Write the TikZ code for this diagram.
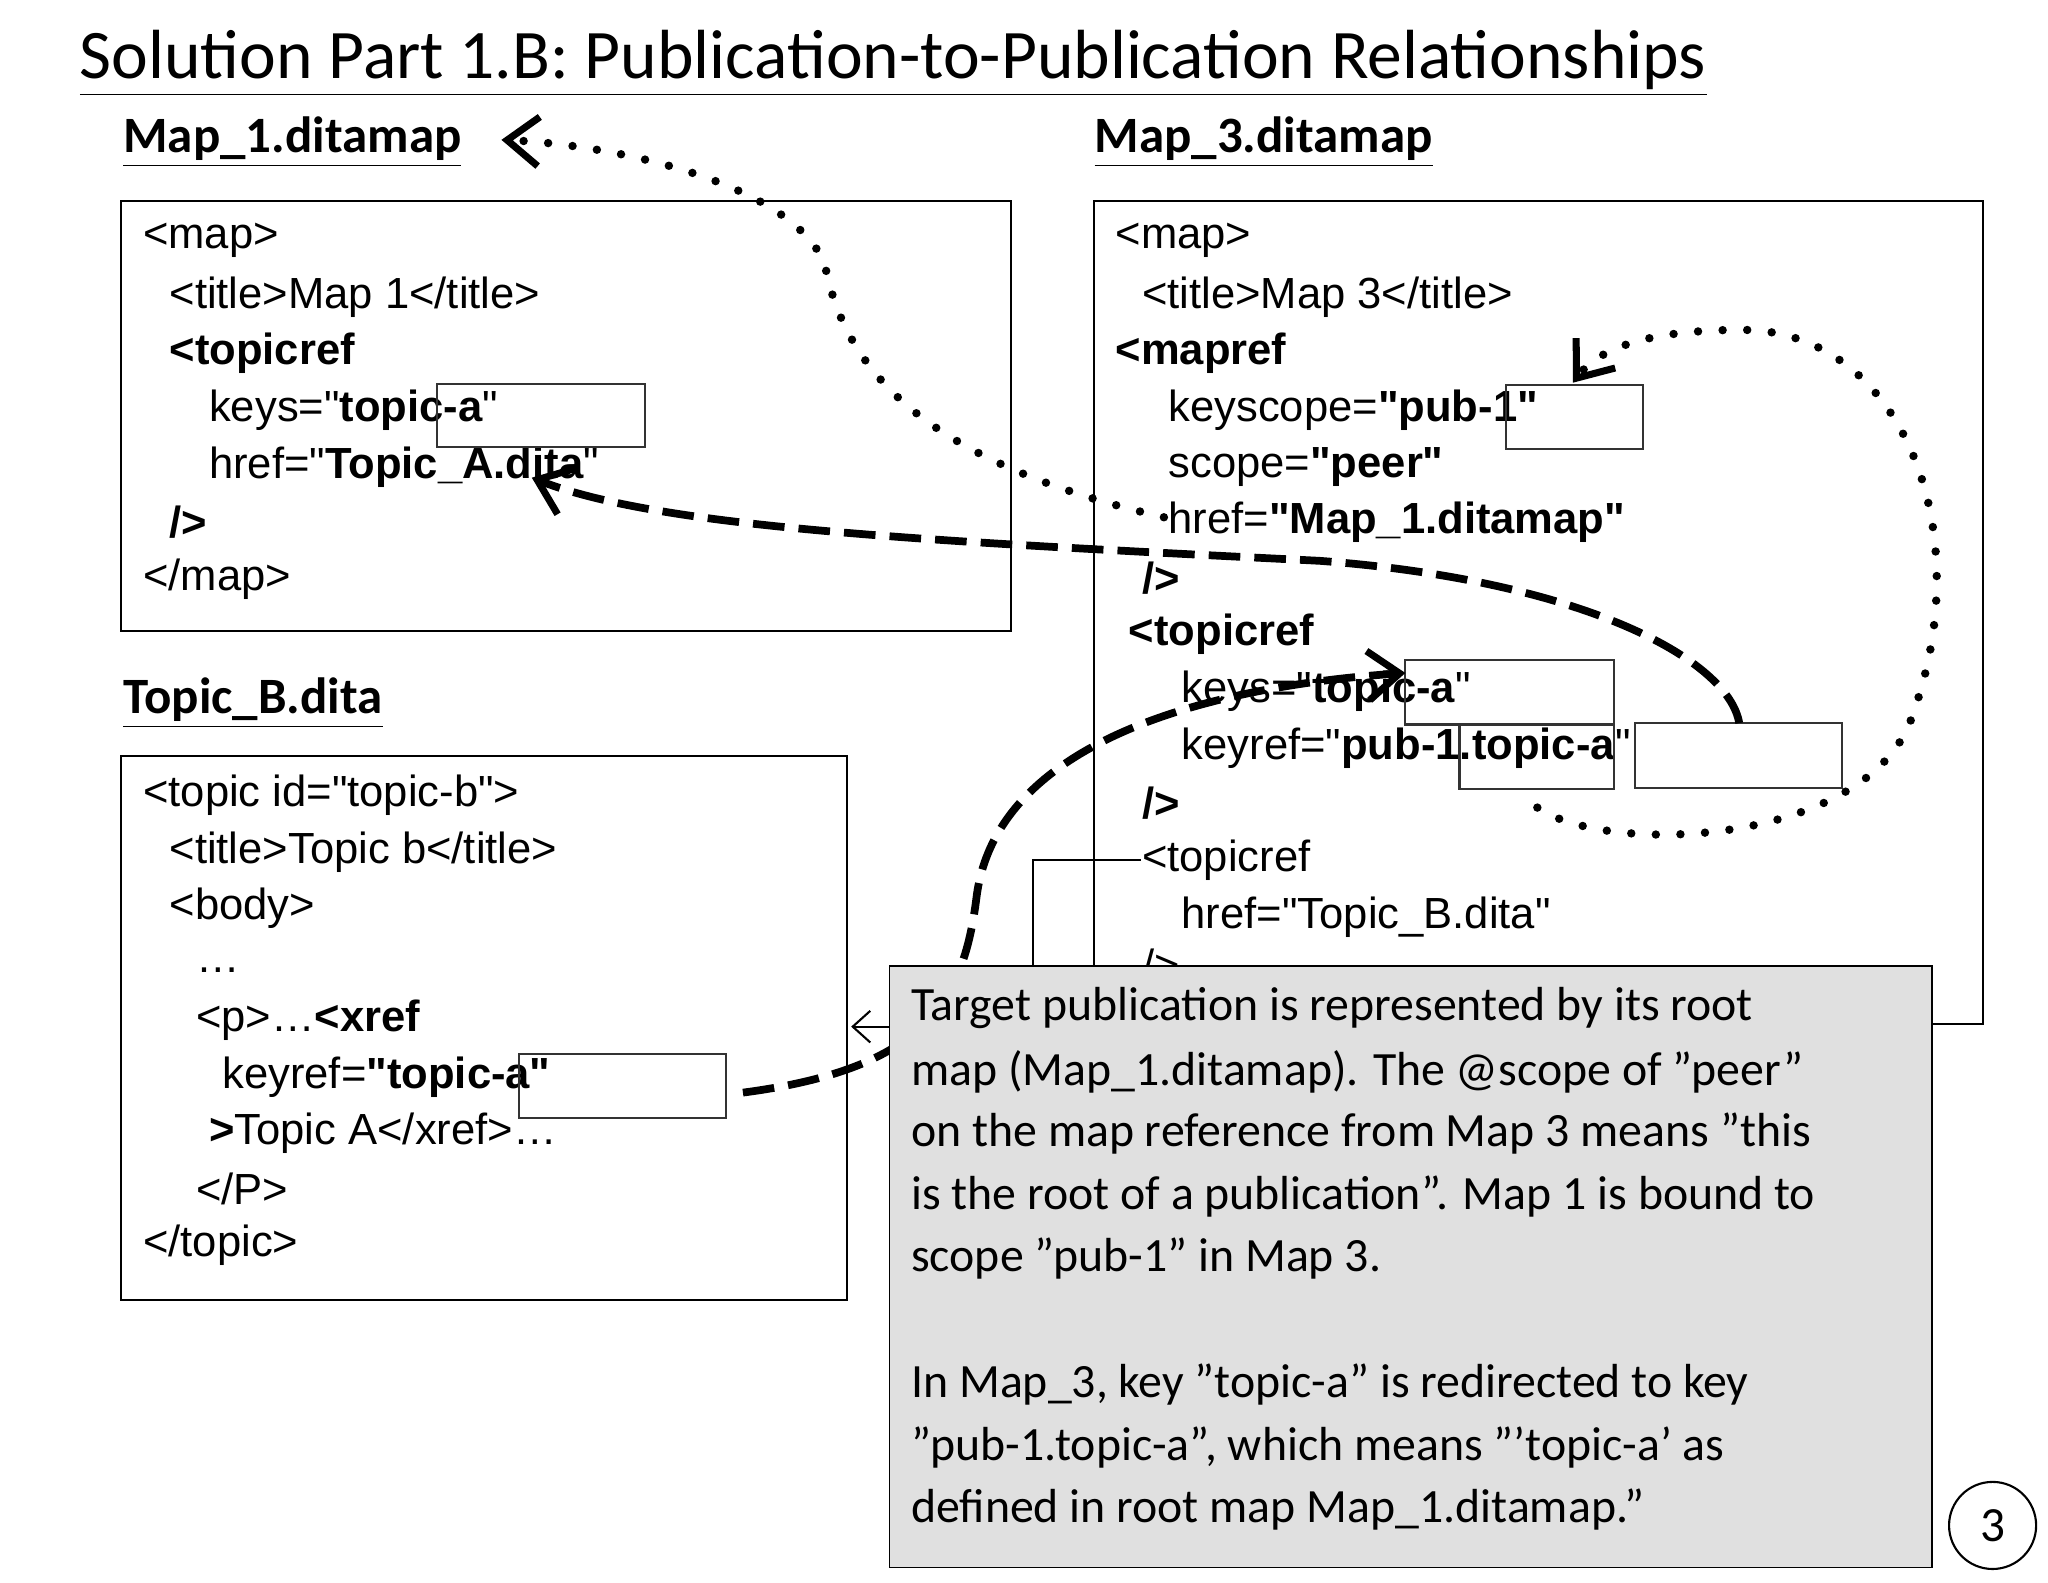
\documentclass[tikz,border=0pt]{standalone}
\usepackage{fontspec}
\defaultfontfeatures{}
\setmainfont{Carlito}
\newfontfamily\codefont{Liberation Sans}
\usetikzlibrary{arrows.meta}

\begin{document}
\begin{tikzpicture}[x=0.013196cm, y=-0.013196cm,
    code/.style={anchor=west, inner sep=0, font=\codefont\fontsize{12.4}{14}\selectfont},
    head/.style={anchor=west, inner sep=0, font=\bfseries\fontsize{14.5}{16}\selectfont},
    note/.style={anchor=west, inner sep=0, font=\fontsize{13.6}{16}\selectfont},
    keybox/.style={draw=black!80, semithick},
    dotline/.style={line width=2.4pt, dash pattern=on 0pt off 7pt, line cap=round},
    dashline/.style={line width=2.2pt, dash pattern=on 9pt off 4pt}]
    \useasboundingbox (0,0) rectangle (1552,1199);

    \node[anchor=west, inner sep=0, font=\fontsize{19.8}{22}\selectfont] (title) at (60,48)
        {\underline{Solution Part 1.B: Publication-to-Publication Relationships}};

    % Map 1
    \node[head] (h1) at (93,108) {\underline{Map\_1.ditamap}};
    \draw[semithick] (92,152) rectangle (766,478);
    \node[code] at (108,182) {<map>};
    \node[code] at (128,225) {<title>Map 1</title>};
    \node[code] at (128,268) {\textbf{<topicref}};
    \node[code] at (158,311) {keys="\textbf{topic-a}"};
    \node[code] (hrefa) at (158,354) {href="\textbf{Topic\_A.dita}"};
    \node[code] at (128,396) {\textbf{/>}};
    \node[code] at (108,439) {</map>};

    % Map 3
    \node[head] (h3) at (829,108) {\underline{Map\_3.ditamap}};
    \draw[semithick] (829,152) rectangle (1503,776);
    \node[code] at (845,182) {<map>};
    \node[code] at (865,225) {<title>Map 3</title>};
    \node[code] at (845,268) {\textbf{<mapref}};
    \node[code] at (885,311) {keyscope=\textbf{"pub-1"}};
    \node[code] at (885,354) {scope=\textbf{"peer"}};
    \node[code] (hrefm) at (885,396) {href=\textbf{"Map\_1.ditamap"}};
    \node[code] at (865,438) {\textbf{/>}};
    \node[code] at (855,481) {\textbf{<topicref}};
    \node[code] at (895,524) {keys="\textbf{topic-a}"};
    \node[code] at (895,567) {keyref="\textbf{pub-1.topic-a}"};
    \node[code] at (865,609) {\textbf{/>}};
    \node[code] (tref) at (865,652) {<topicref};
    \node[code] at (895,695) {href="Topic\_B.dita"};
    \node[code] at (865,731) {/>};

    % Topic B
    \node[head] (hb) at (93,533) {\underline{Topic\_B.dita}};
    \draw[semithick] (92,573) rectangle (642,985);
    \node[code] at (108,603) {<topic id="topic-b">};
    \node[code] at (128,646) {<title>Topic b</title>};
    \node[code] at (128,688) {<body>};
    \node[code] at (148,735) {\dots};
    \node[code] at (148,773) {<p>\dots\textbf{<xref}};
    \node[code] at (168,816) {keyref=\textbf{"topic-a"}};
    \node[code] at (158,859) {\textbf{>}Topic A</xref>\dots};
    \node[code] at (148,901) {</P>};
    \node[code] at (108,944) {</topic>};

    % key boxes
    \draw[keybox] (331,291) rectangle (489,339);
    \draw[keybox] (1141,292) rectangle (1245,340);
    \draw[keybox] (1065,500) rectangle (1223,549);
    \draw[keybox] (1106,549) rectangle (1223,598);
    \draw[keybox] (1239,548) rectangle (1396,597);
    \draw[keybox] (393,799) rectangle (550,847);

    \coordinate (m1tip) at (380,106);
    \coordinate (m3start) at (882,392);
    \coordinate (pubtip) at (1192,290);
    \coordinate (loopstart) at (1165,612);
    \coordinate (redir) at (1318,548);
    \coordinate (atip) at (403,362);
    \coordinate (xrefend) at (563,828);
    \coordinate (keytip) at (1065,510);

    % references
    \draw[dotline, -{Straight Barb[length=9pt, width=14pt, line width=2pt]}] (m3start)
        .. controls (700,350) and (640,280) .. (625,200)
        .. controls (600,140) and (470,110) .. (m1tip);
    \draw[dotline, -{Straight Barb[length=9pt, width=14pt, line width=2pt]}] (loopstart)
        .. controls (1220,650) and (1420,640) .. (1450,540)
        .. controls (1500,400) and (1440,250) .. (1320,250)
        .. controls (1260,250) and (1215,260) .. (pubtip);
    \draw[dashline, -{Straight Barb[length=9pt, width=14pt, line width=2pt]}] (redir)
        .. controls (1310,500) and (1200,440) .. (1000,425)
        .. controls (700,410) and (500,400) .. (atip);
    \draw[dashline, -{Straight Barb[length=9pt, width=14pt, line width=2pt]}] (xrefend)
        .. controls (700,810) and (730,760) .. (740,680)
        .. controls (755,560) and (920,520) .. (keytip);

    % note
    \draw[fill=black!12] (674,732) rectangle (1464,1188);
    \coordinate (cl) at (674,778);
    \draw[semithick] (783,732) |- (tref.west);
    \draw[semithick, -{Straight Barb[length=5pt, width=9pt]}] (cl) -- (645,778);
    \node[note] at (690,764) {Target publication is represented by its root};
    \node[note] at (690,812) {map (Map\_1.ditamap). The @scope of "peer"};
    \node[note] at (690,859) {on the map reference from Map 3 means "this};
    \node[note] at (690,907) {is the root of a publication". Map 1 is bound to};
    \node[note] at (690,954) {scope "pub-1" in Map 3.};
    \node[note] at (690,1049) {In Map\_3, key "topic-a" is redirected to key};
    \node[note] at (690,1097) {"pub-1.topic-a", which means "'topic-a' as};
    \node[note] at (690,1144) {defined in root map Map\_1.ditamap."};

    \draw[semithick] (1510,1156) circle (33);
    \node[font=\fontsize{14}{16}\selectfont] (page) at (1510,1156) {3};
\end{tikzpicture}
\end{document}
